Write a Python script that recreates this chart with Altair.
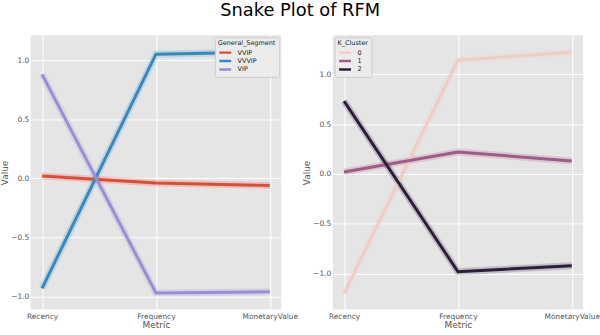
import altair as alt
import pandas as pd

metrics = ["Recency", "Frequency", "MonetaryValue"]

seg_names = ["VVIP", "VVVIP", "VIP"]
seg_vvip = [0.02, -0.04, -0.06]
seg_vvvip = [-0.93, 1.05, 1.07]
seg_vip = [0.88, -0.97, -0.96]
seg_colors = ["#E24A33", "#348ABD", "#988ED5"]

clu_names = ["0", "1", "2"]
clu_0 = [-1.20, 1.14, 1.22]
clu_1 = [0.02, 0.22, 0.13]
clu_2 = [0.73, -0.98, -0.92]
clu_colors = ["#f0cdc2", "#a15a87", "#2c1e3d"]

rows = []
for name, vals in zip(seg_names, [seg_vvip, seg_vvvip, seg_vip]):
    for m, v in zip(metrics, vals):
        rows.append({"Metric": m, "Value": v, "General_Segment": name})
df_seg = pd.DataFrame(rows)

rows = []
for name, vals in zip(clu_names, [clu_0, clu_1, clu_2]):
    for m, v in zip(metrics, vals):
        rows.append({"Metric": m, "Value": v, "K_Cluster": name})
df_clu = pd.DataFrame(rows)

W, H = 253, 277


def panel(df, field, names, colors, domain, orient):
    x = alt.X("Metric:N", sort=metrics,
              scale=alt.Scale(type="point", padding=0.1),
              axis=alt.Axis(labelAngle=0, title="Metric", labelPadding=3,
                            titlePadding=1))
    y = alt.Y("Value:Q", scale=alt.Scale(domain=domain, nice=False, zero=False),
              axis=alt.Axis(values=[-1.0, -0.5, 0.0, 0.5, 1.0], format=".1f",
                            title="Value", titlePadding=1, labelPadding=2))
    legend = alt.Legend(orient=orient, offset=2,
                        symbolType="stroke", symbolStrokeWidth=2.5,
                        symbolSize=144, symbolOpacity=1, clipHeight=8,
                        titleFontSize=6.5, labelFontSize=6.5,
                        titleFontWeight="normal",
                        titleColor="#222", labelColor="#222",
                        fillColor="#ececec", strokeColor="#cccccc",
                        padding=3, rowPadding=0.5, labelOffset=5,
                        titlePadding=2, cornerRadius=2)
    color = alt.Color(f"{field}:N", sort=names,
                      scale=alt.Scale(domain=names, range=colors),
                      legend=legend)
    base = alt.Chart(df)
    halo = base.mark_line(strokeWidth=7, strokeOpacity=0.2).encode(
        x=x, y=y, color=color)
    line = base.mark_line(strokeWidth=3).encode(x=x, y=y, color=color)
    return alt.layer(halo, line).properties(width=W, height=H)


left = panel(df_seg, "General_Segment", seg_names, seg_colors, [-1.11, 1.21], "top-right")
right = panel(df_clu, "K_Cluster", clu_names, clu_colors, [-1.36, 1.39], "top-left")

chart = alt.hconcat(left, right, spacing=52, bounds="flush").resolve_scale(
    color="independent"
).properties(
    title=alt.Title("Snake Plot of RFM", fontSize=18, font="DejaVu Sans",
                    fontWeight="normal", anchor="middle", color="#000", offset=15),
    padding={"left": 0, "top": 1, "right": 0, "bottom": 0},
).configure_view(
    fill="#E5E5E5", stroke=None
).configure_axis(
    grid=True, gridColor="#ffffff", gridWidth=1, domain=False, ticks=False,
    labelFont="DejaVu Sans", titleFont="DejaVu Sans", labelFontSize=7.5,
    titleFontSize=9, labelColor="#555555", titleColor="#555555",
    titleFontWeight="normal"
).configure_legend(
    labelFont="DejaVu Sans", titleFont="DejaVu Sans"
)

chart.save("out.html", embed_options={"renderer": "svg", "actions": False})
